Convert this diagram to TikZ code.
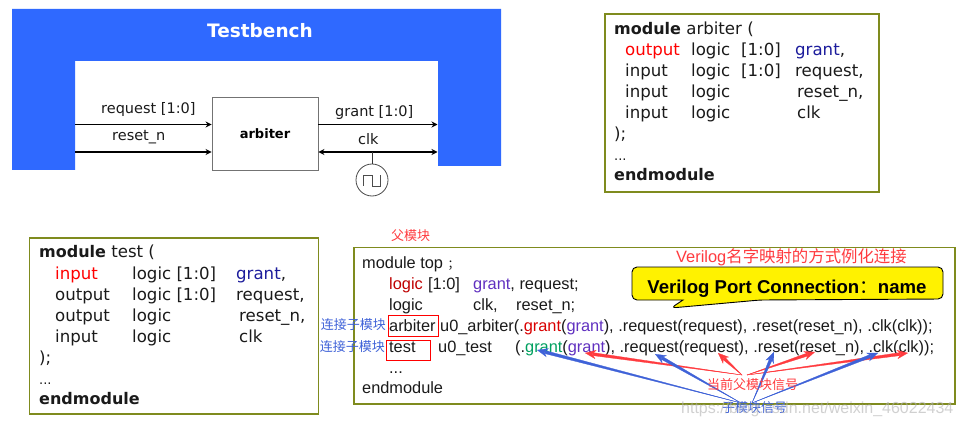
\documentclass[tikz,border=0pt]{standalone}
\usepackage{fontspec}
\setmainfont{Liberation Sans}
\newfontfamily\vd{DejaVu Sans}
\newfontfamily\cjk{Noto Sans CJK SC}
\usetikzlibrary{arrows.meta,calc}
\definecolor{tbblue}{HTML}{2F69FF}
\definecolor{olive}{HTML}{7F8B1E}
\definecolor{lblue}{HTML}{3F62D8}
\definecolor{rred}{HTML}{FF3B3F}
\definecolor{navy}{HTML}{1C1C9C}
\definecolor{purp}{HTML}{6030C0}
\definecolor{ggreen}{HTML}{00A060}
\definecolor{ltxt}{HTML}{1A1A1A}
\definecolor{ywl}{HTML}{FFF200}
\newcommand\tapered[3]{%
  \draw[draw=#3,fill=#3,line width=0.3pt] (#1) -- ($(#2)!8pt!(#1)!1.5pt!90:(#2)$) -- ($(#2)!8pt!(#1)!1.5pt!-90:(#2)$) -- cycle;
  \draw[draw=#3,line width=0.3pt,-{Stealth[length=11pt,width=9pt]}] (#1) -- (#2);}
\newcommand\kwd[1]{{\fontsize{16}{16}\selectfont\bfseries #1}}
\tikzset{
  vt/.style={anchor=base west,inner sep=0pt,text=ltxt,font=\vd\fontsize{16.6}{17}\selectfont},
  art/.style={anchor=base west,inner sep=0pt,text=ltxt,font=\fontsize{16.35}{17}\selectfont},
  sig/.style={anchor=base west,inner sep=0pt,text=ltxt,font=\vd\fontsize{14.5}{15}\selectfont},
  codebox/.style={draw=olive,line width=1.8pt,fill=white,minimum width=0pt},
  wire/.style={line width=1.4pt,-{Stealth[length=6pt,width=6pt]}},
  redbox/.style={draw=red,line width=0.8pt},
  note/.style={inner sep=0pt,font=\cjk\fontsize{13}{13}\selectfont},
}
\begin{document}
\begin{tikzpicture}[x=1pt,y=-1pt]
\useasboundingbox (0,0) rectangle (962,425);
\fill[white] (0,0) rectangle (962,425);
% Testbench
\fill[tbblue] (12,9) -- (501,9) -- (501,166) -- (438,166) -- (438,61) -- (75,61) -- (75,170) -- (12,170) -- cycle;
\node[text=white,inner sep=0pt,font=\vd\bfseries\fontsize{18.5}{19}\selectfont] (tb) at (260,31) {Testbench};
\node[draw=black!55,line width=0.9pt,fill=white,minimum width=106pt,minimum height=73pt,inner sep=0pt,font=\vd\bfseries\fontsize{13}{14}\selectfont] (arb) at (265,134) {arbiter};
\coordinate (reqL) at (75,124.5);
\coordinate (rstL) at (75,152);
\coordinate (gntR) at (437.5,124.5);
\coordinate (clkR) at (437.5,152);
\coordinate (clkT) at (372,152);
\draw[wire] (reqL) -- (reqL-|arb.west);
\draw[wire] (rstL) -- (rstL-|arb.west);
\draw[wire] (gntR-|arb.east) -- (gntR);
\draw[line width=1.4pt,{Stealth[length=6pt,width=6pt]}-{Stealth[length=6pt,width=6pt]}] (clkR-|arb.east) -- (clkR);
\node[draw=black!70,circle,line width=0.8pt,minimum size=32pt,inner sep=0pt] (osc) at (372,180) {};
\draw[black!80,line width=0.8pt] (clkT) -- (osc.north);
\draw[black!70,line width=0.8pt] (363.5,186) -- (363.5,175) -- (372,175) -- (372,186) -- (380,186) -- (380,175);
\node[sig] (lreq) at (101,114) {request [1:0]};
\node[sig] (lrst) at (112,141) {reset\_n};
\node[sig] (lgnt) at (335,117) {grant [1:0]};
\node[sig] (lclk) at (358,145) {clk};
% module arbiter
\draw[codebox] (605,14) rectangle (879,192);
\node[vt] (a0) at (614,35) {\kwd{module} arbiter (};
\node[vt,text=red] (a1a) at (625,56) {output};
\node[vt] (a1b) at (691,56) {logic};
\node[vt] (a1c) at (741,56) {[1:0]};
\node[vt,text=navy] (a1d) at (795,56) {grant\textcolor{ltxt}{,}};
\node[vt] (a2a) at (625,77) {input};
\node[vt] (a2b) at (691,77) {logic};
\node[vt] (a2c) at (741,77) {[1:0]};
\node[vt] (a2d) at (795,77) {request,};
\node[vt] (a3a) at (625,98) {input};
\node[vt] (a3b) at (691,98) {logic};
\node[vt] (a3d) at (797,98) {reset\_n,};
\node[vt] (a4a) at (625,119) {input};
\node[vt] (a4b) at (691,119) {logic};
\node[vt] (a4d) at (797,119) {clk};
\node[vt] (a5) at (614,140) {);};
\node[vt,font=\vd\fontsize{13}{13}\selectfont] (a6) at (614,161) {...};
\node[vt] (a7) at (614,181) {\kwd{endmodule}};
% module test
\draw[codebox] (29.5,238) rectangle (318.5,414);
\node[vt] (t0) at (39,258) {\kwd{module} test (};
\node[vt,text=red] (t1a) at (55,279) {input};
\node[vt] (t1b) at (132,279) {logic [1:0]};
\node[vt,text=navy] (t1d) at (236,279) {grant\textcolor{ltxt}{,}};
\node[vt] (t2a) at (55,300) {output};
\node[vt] (t2b) at (132,300) {logic [1:0]};
\node[vt] (t2d) at (236,300) {request,};
\node[vt] (t3a) at (55,321) {output};
\node[vt] (t3b) at (132,321) {logic};
\node[vt] (t3d) at (239,321) {reset\_n,};
\node[vt] (t4a) at (55,342) {input};
\node[vt] (t4b) at (132,342) {logic};
\node[vt] (t4d) at (239,342) {clk};
\node[vt] (t5) at (39,363) {);};
\node[vt,font=\vd\fontsize{13}{13}\selectfont] (t6) at (39,384) {...};
\node[vt] (t7) at (39,404) {\kwd{endmodule}};
% module top
\draw[codebox] (354,247.5) rectangle (955,404);
\node[note,text=rred,anchor=west] (parent) at (391,236) {父模块};
\node[note,text=rred,anchor=west,font=\fontsize{16.4}{17}\selectfont] (vtitle) at (676,257) {Verilog{\cjk 名字映射的方式例化连接}};
\draw[draw=black,fill=ywl,line width=0.9pt,rounded corners=5pt] (632,267) -- (943,267) -- (943,299) -- (760,300) -- (671,308) [sharp corners] -- (683,300) [rounded corners=5pt] -- (632,300) -- cycle;
\node[anchor=base,inner sep=0pt,text=black,font=\bfseries\fontsize{18.6}{19}\selectfont] (vport) at (787,293) {Verilog Port Connection{\mdseries\cjk ：}name};
\node[art] (m0) at (362,268) {module top {\mdseries\cjk\fontsize{12}{12}\selectfont ；}};
\node[art,text=red!75!black] (m1a) at (389,289) {logic};
\node[art] (m1b) at (428,289) {[1:0]};
\node[art] (m1c) at (473,289) {\textcolor{purp}{grant}, request;};
\node[art] (m2a) at (389,310) {logic};
\node[art] (m2b) at (473,310) {clk,};
\node[art] (m2c) at (516,310) {reset\_n;};
\node[art] (m3a) at (389,331) {arbiter};
\node[art] (m3b) at (440,331) {u0\_arbiter(.\textcolor{red!85!black}{grant}(\textcolor{purp}{grant}), .request(request), .reset(reset\_n), .clk(clk));};
\node[art] (m4a) at (389,352) {test};
\node[art] (m4b) at (438,352) {u0\_test};
\node[art] (m4c) at (515,352) {(.\textcolor{ggreen}{grant}(\textcolor{purp}{grant}), .request(request), .reset(reset\_n), .clk(clk));};
\node[art] (m5) at (389,373) {...};
\node[art] (m6) at (362,393) {endmodule};
\node[redbox,minimum width=50pt,minimum height=21pt,inner sep=0pt] (rb1) at (413,325.5) {};
\node[redbox,minimum width=44pt,minimum height=20pt,inner sep=0pt] (rb2) at (408,350) {};
\node[note,text=lblue,anchor=east] (c1) at (386,325) {连接子模块};
\node[note,text=lblue,anchor=east] (c2) at (385,347) {连接子模块};
% annotations
\coordinate (rsrcL) at (742,375);
\coordinate (rsrcR) at (747,375);
\coordinate (bsrcL) at (741,403);
\coordinate (bsrcR) at (752,403);
\coordinate (rt1) at (585,353);
\coordinate (rt2) at (718,353);
\coordinate (rt3) at (815,352);
\coordinate (rt4) at (908,353);
\coordinate (bt1) at (537,350);
\coordinate (bt2) at (655,354);
\coordinate (bt3) at (774,352);
\coordinate (bt4) at (878,353);
\tapered{rsrcL}{rt1}{rred}
\tapered{rsrcL}{rt2}{rred}
\tapered{rsrcR}{rt3}{rred}
\tapered{rsrcR}{rt4}{rred}
\tapered{bsrcL}{bt1}{lblue}
\tapered{bsrcL}{bt2}{lblue}
\tapered{bsrcR}{bt3}{lblue}
\tapered{bsrcR}{bt4}{lblue}
\node[note,text=rred,anchor=west] (curr) at (707,384.5) {当前父模块信号};
\node[note,text=lblue,anchor=west] (subs) at (722,408) {子模块信号};
\node[anchor=base west,inner sep=0pt,text=gray!60,opacity=.6,font=\fontsize{16}{16}\selectfont] (wm) at (681,413) {https://blog.csdn.net/weixin\_46022434};
\end{tikzpicture}
\end{document}
